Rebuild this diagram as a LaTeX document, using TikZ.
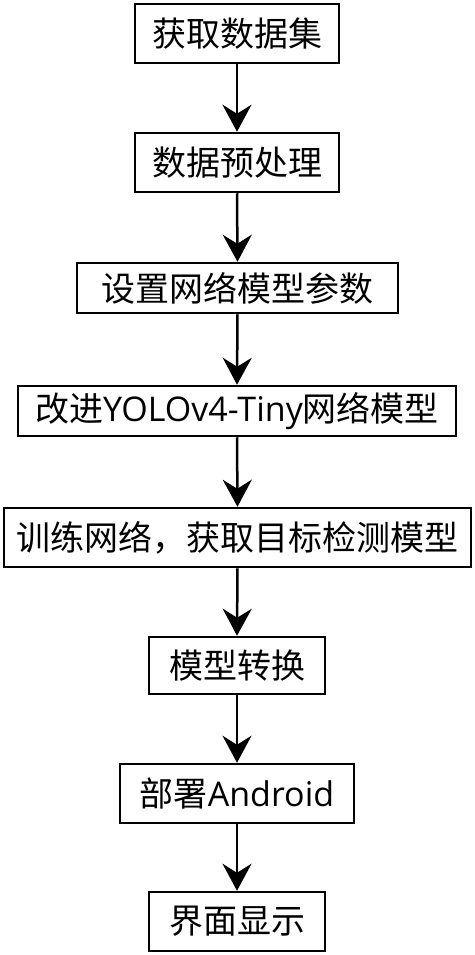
\documentclass[tikz,border=0pt]{standalone}
\usepackage{fontspec}
\setmainfont{Open Sans}
\newfontfamily\cjk{Noto Sans CJK SC}
\usetikzlibrary{arrows.meta}
\begin{document}
\begin{tikzpicture}[x=1pt,y=-1pt,
  boxstyle/.style={draw=black, line width=2.5pt, inner sep=0pt, font=\fontsize{34}{40}\selectfont},
  flowarrow/.style={line width=2.5pt, -{Stealth[length=27pt,width=29pt,inset=9pt]}}]
\useasboundingbox (0,0) rectangle (474,955);
\node[boxstyle, minimum width=204pt, minimum height=59pt] (n1) at (237,33.5) {\cjk 获取数据集};
\node[boxstyle, minimum width=204pt, minimum height=59pt] (n2) at (237,162.5) {\cjk 数据预处理};
\node[boxstyle, minimum width=321pt, minimum height=50pt] (n3) at (237.5,288) {\cjk 设置网络模型参数};
\node[boxstyle, minimum width=438pt, minimum height=50pt] (n4) at (237,411) {{\cjk 改进}YOLOv4-Tiny{\cjk 网络模型}};
\node[boxstyle, minimum width=467pt, minimum height=59pt] (n5) at (237.5,537.5) {\cjk 训练网络，获取目标检测模型};
\node[boxstyle, minimum width=176pt, minimum height=57pt] (n6) at (237,665.5) {\cjk 模型转换};
\node[boxstyle, minimum width=234pt, minimum height=59pt] (n7) at (237,793.5) {{\cjk 部署}Android};
\node[boxstyle, minimum width=176pt, minimum height=59pt] (n8) at (237,921.5) {\cjk 界面显示};
\draw[flowarrow] (n1.south) -- (n2.north);
\draw[flowarrow] (n2.south) -- (n3.north);
\draw[flowarrow] (n3.south) -- (n4.north);
\draw[flowarrow] (n4.south) -- (n5.north);
\draw[flowarrow] (n5.south) -- (n6.north);
\draw[flowarrow] (n6.south) -- (n7.north);
\draw[flowarrow] (n7.south) -- (n8.north);
\end{tikzpicture}
\end{document}
